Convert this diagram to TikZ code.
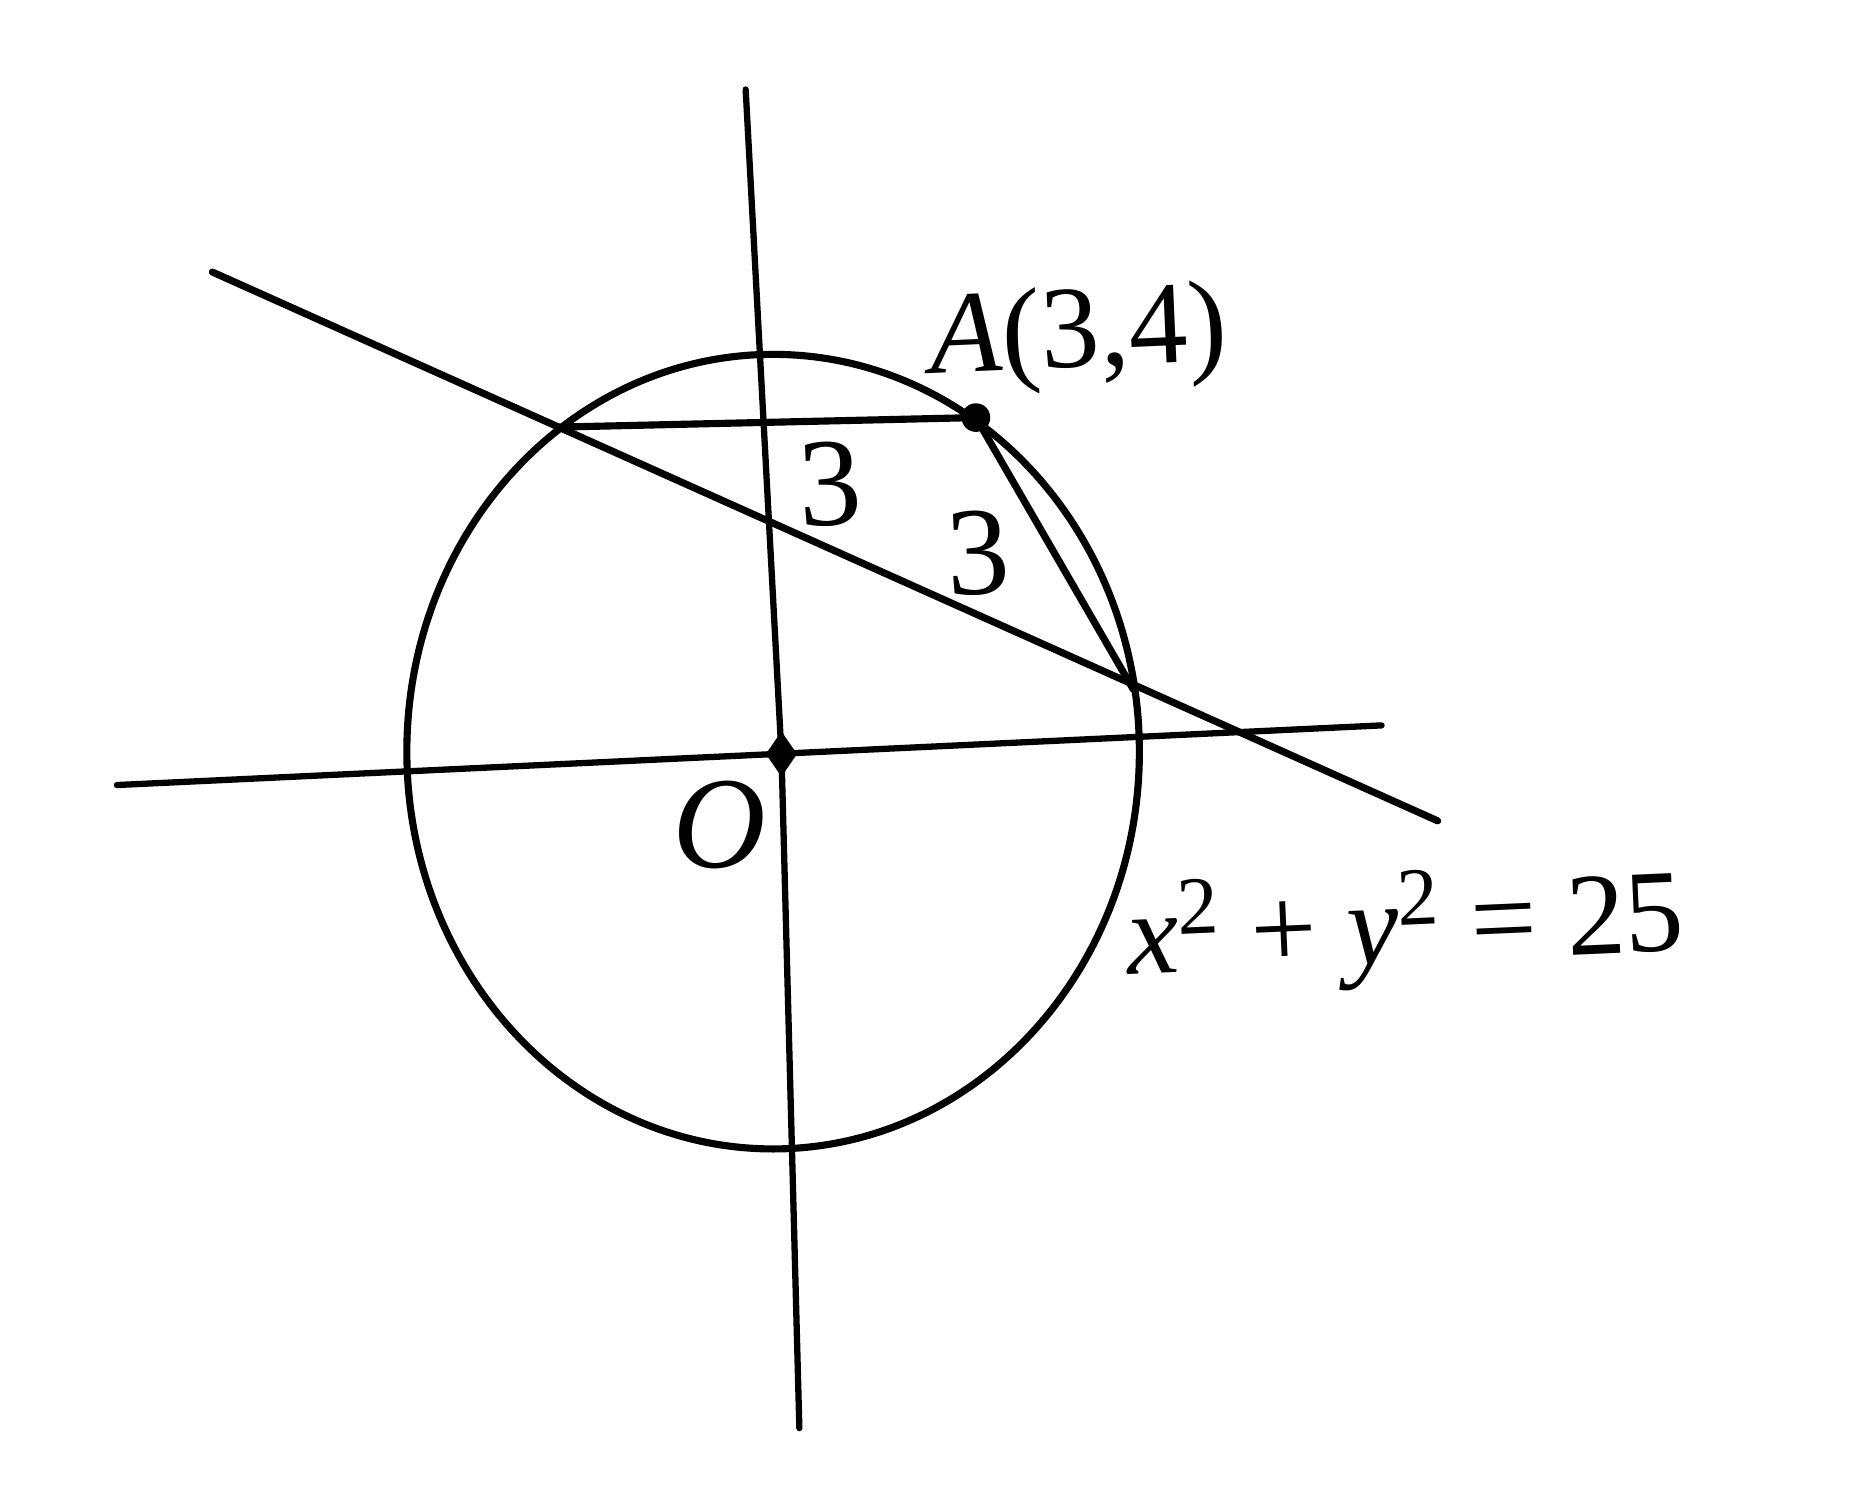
\documentclass[tikz,border=0pt]{standalone}
\usepackage{fontspec}
\setmainfont{Liberation Serif}
\begin{document}
\begin{tikzpicture}[x=1cm,y=1cm,
  ln/.style={line width=1.7pt,black,line cap=round,line join=round},
  ax/.style={line width=1.5pt,black,line cap=round,line join=round},
  lbl/.style={inner sep=0pt,font=\fontsize{28}{32}\selectfont,rotate=2.5},
  adot/.style={circle,fill=black,inner sep=0pt,minimum size=0.24cm}]
\useasboundingbox[fill=white] (0,0) rectangle (15.54,-12.52);
% points
\coordinate (O) at (6.55,-6.32);
\coordinate (yt) at (6.25,-0.75);
\coordinate (yb) at (6.70,-11.97);
\coordinate (xl) at (0.98,-6.58);
\coordinate (xr) at (11.58,-6.08);
\coordinate (C) at (6.48,-6.30);
\coordinate (P) at (4.68,-3.58);
\coordinate (Q) at (9.50,-5.78);
\coordinate (s1) at (1.78,-2.28);
\coordinate (s2) at (12.05,-6.88);
% axes
\draw[ax] (yt) -- (O) -- (yb);
\draw[ax] (xl) -- (xr);
% circle
\draw[ln] (C) ellipse [x radius=3.07, y radius=3.33];
% secant line
\draw[ln] (s1) -- (s2);
% point A
\node[adot] (A) at (8.18,-3.50) {};
% chord and segment
\draw[ln] (P) -- (A.center);
\draw[ln] (A.center) -- (Q);
% origin marker
\fill (O) ++(0,0.19) -- ++(0.13,-0.19) -- ++(-0.13,-0.19) -- ++(-0.13,0.19) -- cycle;
% labels
\node[lbl,anchor=base west] (Alab) at (7.80,-3.13) {\textit{A}(3,4)};
\node[lbl,anchor=base,font=\fontsize{31}{34}\selectfont] (Olab) at (6.05,-7.27) {\textit{O}};
\node[lbl,anchor=base,font=\fontsize{30}{34}\selectfont] (t1) at (6.97,-4.40) {3};
\node[lbl,anchor=base,font=\fontsize{30}{34}\selectfont] (t2) at (8.21,-4.98) {3};
\node[lbl,anchor=base west] (eq) at (9.45,-8.17) {\textit{x}\textsuperscript{2} + \textit{y}\textsuperscript{2} = 25};
\end{tikzpicture}
\end{document}
